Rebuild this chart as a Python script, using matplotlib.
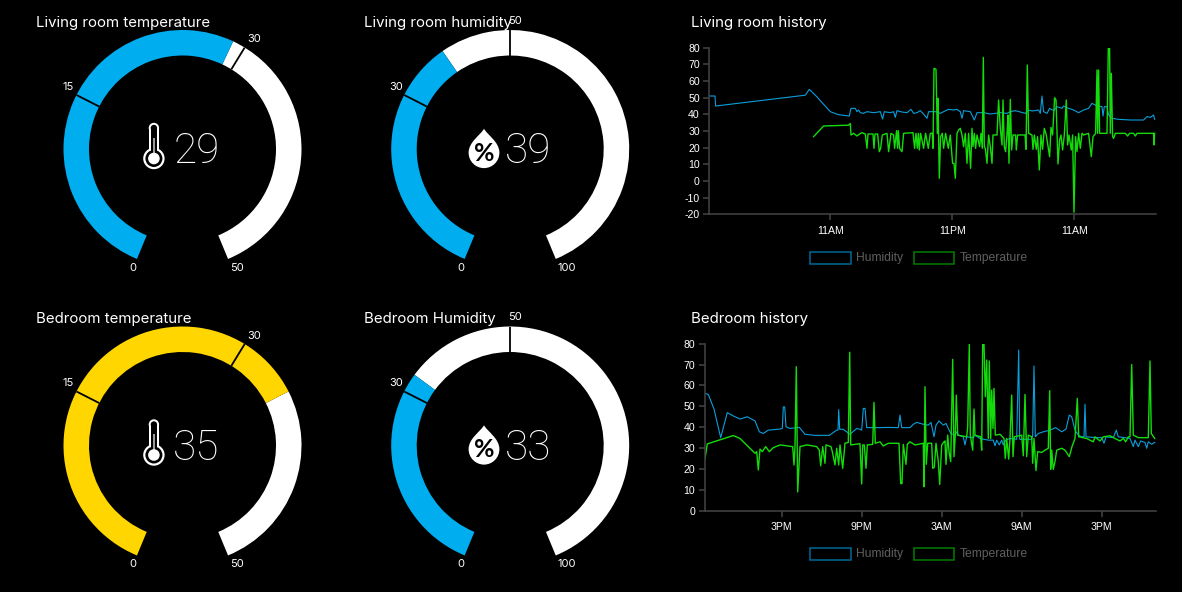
"""Home climate dashboard: four gauges and two history charts on black."""

import matplotlib
matplotlib.use("Agg")
import matplotlib.pyplot as plt
import numpy as np
from matplotlib.patches import Circle, PathPatch, Rectangle, Wedge
from matplotlib.path import Path

plt.rcParams["axes.unicode_minus"] = False

# ---------- GAUGE DATA ----------
GAUGE_TITLES = ["Living room temperature", "Living room humidity",
                "Bedroom temperature", "Bedroom Humidity"]
GAUGE_VALUES = [29, 39, 35, 33]
GAUGE_MAX = [50, 100, 50, 100]
GAUGE_TICKS = [[15, 30], [30, 50], [15, 30], [30, 50]]
GAUGE_KIND = ["temp", "hum", "temp", "hum"]
GAUGE_FILL = ["#00aeef", "#00aeef", "#ffd600", "#00aeef"]

# ---------- HISTORY DATA (time unit ~ 6 min living room, 4.5 min bedroom) ----------
LIVING_TICKS = [121, 243, 365]
LIVING_LABELS = ["11AM", "11PM", "11AM"]
BEDROOM_TICKS = [77, 157, 237, 317, 397]
BEDROOM_LABELS = ["3PM", "9PM", "3AM", "9AM", "3PM"]

LIVING_HUMIDITY = [
    (0, 51), (5.7, 51), (6.3, 45), (96, 51.5), (100, 55), (107.7, 50.5), (111, 48.2), (121, 41.6),
    (129, 39.8), (140, 39), (141.7, 43.6), (146, 43.6), (147.7, 41.6), (149.3, 42.6), (151, 41),
    (154.3, 40.6), (157.7, 41.6), (164.3, 41), (171, 41.6), (173.3, 37.2), (175, 41.6), (181, 41),
    (184.3, 41.6), (186, 38.2), (187.7, 42.2), (192.7, 41.4), (197.7, 41), (201.7, 43), (204.3, 40.6),
    (207.7, 41), (211, 42.2), (214.3, 40.2), (217.7, 37.6), (219.3, 41.6), (226, 41.6), (231, 40.6),
    (234.3, 41.6), (239.3, 43), (244.3, 42.6), (247.7, 43), (251, 41.6), (252.7, 37.6), (254.3, 42.2),
    (261, 41.6), (265, 36.6), (267.7, 41), (274.3, 41), (281, 40.2), (286, 40.6), (291, 41),
    (297.7, 40.6), (301, 41.6), (306, 42.2), (311, 41.4), (316, 40.6), (319.3, 42.6), (322.7, 42),
    (329.3, 42.6), (331, 40.6), (332.7, 51), (334.3, 41.6), (337.7, 40.6), (340.3, 43.6), (344.3, 42.2),
    (347.7, 44.6), (352.7, 43.6), (354.3, 45), (359.3, 43.6), (364.3, 42.6), (369.3, 41), (374.3, 42.6),
    (379.3, 43.6), (382.7, 46.6), (387.7, 45), (392.7, 44.6), (393.7, 39), (395, 44.6), (397.7, 44.6),
    (399.3, 39.6), (402.7, 37.6), (409.3, 37), (421, 36.6), (434.3, 36.6), (437.7, 38.6), (441, 38.2),
    (444.3, 39.6), (445.3, 37),
]

LIVING_TEMPERATURE = [
    (104.3, 26.6), (114.3, 33), (139.3, 33.5), (141, 34.5), (141.7, 27.6), (144.3, 28.6), (147.7, 27),
    (150.3, 28.2), (152.7, 29), (156, 28.2), (157.7, 19.6), (158.7, 28.2), (163.7, 28.2), (164.7, 19.6),
    (165.7, 28.2), (168.3, 28.2), (170, 17.6), (171.3, 19.6), (173, 27.6), (177.7, 28.6), (179.3, 17.6),
    (181.7, 28.6), (184.3, 27.6), (185.3, 19.6), (187.3, 30.2), (188.3, 19.6), (189, 30.2), (190.3, 19.6),
    (192.7, 17.6), (194.3, 28.6), (203.7, 29), (205.3, 19.6), (206.7, 28.6), (208, 19.6), (209, 28.6),
    (210, 18.6), (211.3, 28.6), (214.3, 19.6), (216.3, 28.6), (219, 19.6), (221, 28.6), (223, 28.6),
    (223.7, 19.6), (224.7, 67.6), (226.7, 67), (228, 28.6), (228.7, 49.6), (230, 1.6), (231.3, 26.6),
    (233, 28.6), (234.3, 19.6), (236.3, 28.6), (239, 19.6), (241, 27.6), (243.3, 10.6), (244.7, 10.6),
    (246, 1.6), (247.7, 28.6), (249.3, 30.6), (251, 31.6), (252.7, 27.6), (254.3, 20.6), (256, 28.6),
    (257.7, 10.6), (259.3, 28.6), (261.3, 7.6), (262.7, 31.6), (263.7, 20.6), (265, 28.6), (266.3, 19.6),
    (267.7, 27.6), (270.3, 20.6), (271.7, 28.6), (273, 19.6), (274, 74.2), (275, 20.6), (276, 19.6),
    (277.7, 10.6), (279.3, 27.6), (281, 20.6), (282.7, 10.6), (283.7, 27.6), (287.7, 27.6), (289.3, 48.6),
    (291, 31.6), (292.7, 21.6), (293.7, 48.6), (295, 20.6), (296.3, 17.6), (297.7, 28.6), (298.7, 39.6),
    (299.7, 10.6), (301, 49), (302.3, 18.6), (303.7, 27.6), (306.3, 27.6), (307, 18.6), (308.3, 27.6),
    (315.7, 27.6), (316.7, 19), (318, 69.6), (319.3, 28.6), (322.7, 27.6), (323.7, 19), (325, 27.6),
    (327, 19), (328.3, 26.6), (330, 6.6), (331.7, 27.6), (333.3, 19), (335, 31.6), (337, 27.6),
    (340.3, 14.6), (341.7, 32.2), (343.3, 27.6), (345.3, 50), (346.7, 48.6), (348.7, 10.2), (350.3, 24.6),
    (351.7, 27.6), (353.3, 18.6), (355, 27.6), (357, 48.6), (358.3, 21.6), (359.7, 27.6), (362, 18.6),
    (363.3, 27.6), (364.7, -18.8), (366.3, 26.6), (367.7, 17.6), (369.3, 28.6), (371, 19.6), (372.7, 28.6),
    (374.3, 27.6), (379.3, 28.6), (382, 14.6), (383.7, 26.6), (386.3, 28.6), (387.7, 66.6), (388.3, 28.6),
    (389.3, 66.6), (390.3, 28.6), (397.7, 28.6), (399, 80), (400.3, 80), (401, 28.6), (402, 64.6),
    (403.3, 26.6), (404.3, 25.6), (406, 28.6), (416, 28.6), (418.3, 27), (420.3, 28.6), (424.3, 28.6),
    (426, 27), (427.7, 28.6), (444.3, 28.6), (444.7, 21.6), (445.3, 28.6),
]

BEDROOM_HUMIDITY = [
    (0.3, 56.2), (3.6, 55.7), (9.3, 48.7), (16, 35), (22.6, 47), (28.6, 45.4), (35.3, 43.9), (42.6, 45),
    (50.3, 43), (52.6, 40.2), (54.6, 37.8), (58.6, 37), (63.6, 38.6), (75.3, 39.1), (77.6, 39.4),
    (78.6, 49.7), (80, 49.7), (81.3, 40.2), (85.3, 39.4), (94.6, 39.9), (100.3, 36.6), (110.3, 36.1),
    (124.6, 36.1), (132, 38.6), (133.3, 38.6), (134, 48.4), (135, 39), (138.6, 39), (145.3, 36.6),
    (152, 39.4), (155.3, 39), (157, 38.6), (158.6, 49), (160.3, 49), (162, 39.8), (165.3, 39.8),
    (175.3, 39.8), (183.6, 39.9), (193.6, 39.8), (195.3, 45.8), (197, 39.8), (205.3, 39.8), (208.6, 41.4),
    (212, 42.3), (218.6, 41.4), (223.6, 41), (226.3, 42.3), (229.3, 35.4), (231.3, 41), (234.3, 43),
    (238.6, 41), (241.3, 41.8), (246, 37), (250.3, 36.2), (252, 37.8), (253.6, 36.2), (258.6, 35.4),
    (260.3, 31.5), (262, 35.4), (268.6, 35), (270.3, 36.2), (275.3, 34.6), (283.6, 33.8), (288.6, 33.8),
    (290.3, 31.1), (292, 33.8), (294.6, 31.5), (297, 33.8), (298.6, 31.5), (301, 33.8), (305.3, 34.6),
    (312, 34.2), (314, 77), (315, 34.2), (327, 34.2), (328, 36.2), (329.3, 69.3), (330.6, 35.4),
    (333.6, 37), (338.6, 37.8), (345.3, 38.6), (351, 39.8), (357, 37.8), (361.3, 39.1), (364.6, 45.8),
    (367, 45), (370.3, 38.6), (373.6, 36.2), (377, 35.4), (379.3, 35.4), (380.3, 51), (381.3, 35.4),
    (392, 35), (397, 35), (399.3, 32.3), (401.3, 35.4), (408.6, 35), (411.6, 38.6), (413.6, 35.4),
    (420.3, 35), (425.3, 34.6), (428.6, 30.7), (430.3, 33.8), (433.6, 30.7), (436, 33.4), (440.3, 32.7),
    (442, 29.9), (443.6, 33), (447, 31.8), (450, 32.7),
]

BEDROOM_TEMPERATURE = [
    (0.3, 25), (2.6, 32), (28.6, 36), (35.3, 34.6), (50.3, 27.5), (52, 28.3), (53.6, 19.5), (55.3, 29.5),
    (57.6, 28.3), (61, 30.7), (64.6, 28.3), (68.6, 30.2), (75.3, 31.5), (88, 30.7), (89.3, 21.9),
    (90.3, 30.7), (91.6, 69), (93, 9), (95.3, 30.7), (102, 31.5), (112, 30.7), (114.6, 29), (116, 21.5),
    (118, 30.7), (120.3, 22.7), (121.3, 31.5), (126.3, 30.7), (127.6, 28.3), (130.3, 21.9), (132, 29.9),
    (134, 21.9), (135.3, 31.5), (138, 20.3), (140.3, 32.3), (143.6, 32.7), (145, 75.9), (146, 31.5),
    (155.3, 32.1), (157, 12.8), (158, 31.5), (159.6, 31.5), (161.3, 20.3), (162.6, 31.5), (168, 31.8),
    (169.3, 51.9), (170.6, 32.3), (175.3, 33), (178.6, 31), (183.6, 32.3), (194.3, 32.3), (196, 13),
    (197.3, 13), (198.6, 31.8), (201.3, 22.2), (202.6, 31.8), (205.3, 33), (210.3, 31.5), (218.6, 32.3),
    (219.3, 11.5), (220.3, 59.4), (221.6, 22.2), (223, 32.3), (227, 32.3), (228, 20.3), (229.6, 20.8),
    (231.3, 32.3), (233.6, 23.5), (235, 12.6), (237, 31.5), (239.3, 33), (240.3, 33.4), (241.3, 22.2),
    (243, 36.2), (244.3, 28.3), (246, 23.5), (248, 72.5), (249.3, 25.9), (250.6, 36.2), (251.6, 55.4),
    (253, 36.2), (262, 35.4), (263, 40.2), (264.6, 79.7), (265.6, 36.2), (268, 29), (269.3, 48.7),
    (270.3, 36.2), (276, 35.4), (277, 29), (278, 80), (279.3, 80), (280.6, 54.6), (282, 72.2),
    (283.6, 34.6), (284.6, 71.7), (286, 34.6), (287, 57.8), (288.3, 39.4), (289.3, 58.6), (290.6, 36.2),
    (295.3, 36.6), (299.3, 34.6), (300.6, 25), (302, 34.6), (304, 24.7), (305.3, 34.6), (307, 55.4),
    (308.3, 25.9), (309.6, 35.4), (317, 36.2), (318.6, 26.3), (320.3, 55.7), (322, 25.9), (323.6, 36.2),
    (327, 35.4), (328, 22.7), (329.3, 34.6), (331.3, 19.2), (333, 28.3), (337, 27.9), (340.3, 29),
    (343.6, 29.9), (345, 57.5), (346, 19.8), (347, 29), (348.6, 19.8), (350.3, 23.5), (352, 29),
    (357, 29.9), (360.3, 29), (364.6, 25.9), (367.3, 30.7), (370.3, 34.6), (372.6, 53.8), (374, 35.4),
    (382, 34.6), (385.3, 33.8), (388.6, 33), (390.3, 35.4), (395.3, 33.4), (398.6, 35.4), (405.3, 35.9),
    (410.3, 34.6), (415.3, 33.4), (418.6, 34.6), (421, 33), (423.6, 35.4), (425.3, 35.4), (427, 70),
    (428.6, 36.2), (433.6, 35), (443.6, 35), (445.3, 71.7), (446.6, 37), (450, 34.6),
]

# ---------- LAYOUT (figure pixels) ----------
W, H = 1182, 592
R_OUT, R_IN = 119, 93.5
SWEEP = 157.5
GAUGE_CENTERS = [(182.5, 149), (510.2, 149), (182.5, 445.5), (510.2, 445.5)]
TITLE_POS = [(36, 23), (364, 23), (36, 319), (364, 319)]

HUM_COLOR = "#0a9fdc"
TEMP_COLOR = "#14dc0a"
AXIS_COLOR = "#444444"
TITLE_FONT = ["Inter", "DejaVu Sans"]
NUMBER_FONT = ["Roboto", "DejaVu Sans"]
PERCENT_FONT = ["Lato", "DejaVu Sans"]
CHART_FONT = ["Liberation Sans", "DejaVu Sans"]


def px(y):
    """Pixel row (from the top) to overlay axes y."""
    return H - y


def value_angle(value, vmax):
    """Clockwise angle from 12 o'clock for a gauge value."""
    return -SWEEP + value / vmax * 2 * SWEEP


def draw_thermometer(ov, cx, cy):
    bx, by = cx - 28.6, px(cy + 9.5)
    top = by + 30.5
    ov.add_patch(Rectangle((bx - 5.2, by), 10.4, 30.5, color="white", lw=0))
    ov.add_patch(Circle((bx, top), 5.2, color="white", lw=0))
    ov.add_patch(Circle((bx, by), 10.7, color="white", lw=0))
    ov.add_patch(Rectangle((bx - 3.2, by), 6.4, 30.5, color="black", lw=0))
    ov.add_patch(Circle((bx, top), 3.2, color="black", lw=0))
    ov.add_patch(Circle((bx, by), 8.5, color="black", lw=0))
    ov.add_patch(Rectangle((bx - 1, by), 2, 21, color="#999999", lw=0))
    ov.add_patch(Circle((bx, by), 5.8, color="white", lw=0))


def draw_droplet(ov, cx, cy):
    dx, dy = cx - 26.2, px(cy + 3.7)
    r = 15.4
    k = 0.5523 * r
    verts = [(dx, dy + 24), (dx + 3, dy + 18), (dx + r, dy + 11), (dx + r, dy),
             (dx + r, dy - k), (dx + k, dy - r), (dx, dy - r),
             (dx - k, dy - r), (dx - r, dy - k), (dx - r, dy),
             (dx - r, dy + 11), (dx - 3, dy + 18), (dx, dy + 24)]
    codes = [Path.MOVETO] + [Path.CURVE4] * 12
    ov.add_patch(PathPatch(Path(verts, codes), color="white", lw=0))
    ov.text(dx, dy - 0.5, "%", color="black", fontsize=18, fontweight="bold",
            family=PERCENT_FONT, ha="center", va="center")


def draw_gauge(ov, center, title, title_pos, value, vmax, ticks, fill, kind):
    cx, cy = center
    wedge = (cx, px(cy))
    to_mpl = lambda deg: 90 - deg  # clockwise-from-top to matplotlib degrees
    mid = value_angle(value, vmax)
    ov.add_patch(Wedge(wedge, R_OUT, to_mpl(SWEEP), to_mpl(mid), width=R_OUT - R_IN,
                       color="white", lw=0))
    ov.add_patch(Wedge(wedge, R_OUT, to_mpl(mid), to_mpl(-SWEEP), width=R_OUT - R_IN,
                       color=fill, lw=0))

    for tick in ticks:
        rad = np.radians(value_angle(tick, vmax))
        ov.plot([cx + R_IN * np.sin(rad), cx + R_OUT * np.sin(rad)],
                [px(cy) + R_IN * np.cos(rad), px(cy) + R_OUT * np.cos(rad)],
                color="black", lw=1.3, solid_capstyle="butt")

    for tick in [0] + list(ticks) + [vmax]:
        rad = np.radians(value_angle(tick, vmax))
        lx = cx + 128.5 * np.sin(rad)
        ly = px(cy) + 128.5 * np.cos(rad)
        if rad >= 0:
            ov.text(lx - 2, ly, str(tick), color="white", fontsize=8, family=TITLE_FONT,
                    ha="left", va="center")
        else:
            # labels on the upper left sit a little higher than the radius gives
            ly += 4 if np.cos(rad) > 0 else 0
            ov.text(lx, ly, str(tick), color="white", fontsize=8, family=TITLE_FONT,
                    ha="center", va="center")

    ov.text(title_pos[0], px(title_pos[1]), title, color="white", fontsize=10.8,
            family=TITLE_FONT, ha="left", va="center")

    if kind == "temp":
        draw_thermometer(ov, cx, cy)
        num_x = cx + 14
    else:
        draw_droplet(ov, cx, cy)
        num_x = cx + 18
    ov.text(num_x, px(cy + 2.5), str(value), color="white", fontsize=30.5, fontweight="light",
            family=NUMBER_FONT, ha="center", va="center")


def draw_history(fig, ov, box, title, title_y, humidity, temperature, ylim, yticks,
                 xticks, xlabels, legend_y):
    left, right, top, bottom = box
    ax = fig.add_axes([left / W, 1 - bottom / H, (right - left) / W, (bottom - top) / H])
    ax.set_facecolor("black")
    ax.plot(*zip(*humidity), color=HUM_COLOR, lw=0.8)
    ax.plot(*zip(*temperature), color=TEMP_COLOR, lw=1.0)
    ax.set_xlim(0, right - left)
    ax.set_ylim(*ylim)
    ax.set_yticks(yticks)
    ax.set_xticks(xticks)
    ax.set_xticklabels(xlabels)
    for name in ("top", "right"):
        ax.spines[name].set_visible(False)
    for name in ("left", "bottom"):
        ax.spines[name].set_color(AXIS_COLOR)
        ax.spines[name].set_linewidth(1.1)
    ax.tick_params(axis="both", colors=AXIS_COLOR, labelcolor="white", length=4.3, width=1.1,
                   labelsize=7.6, pad=2.5)
    ax.tick_params(axis="x", pad=4)
    for label in ax.get_xticklabels() + ax.get_yticklabels():
        label.set_family(CHART_FONT)

    ov.text(691, px(title_y), title, color="white", fontsize=10.8, family=TITLE_FONT,
            ha="left", va="center")

    # legend boxes sit below the chart, same place in both panels
    for x0, edge, name in [(810, "#006a94", "Humidity"), (913.5, "#067d06", "Temperature")]:
        ov.add_patch(Rectangle((x0, px(legend_y + 6)), 40.5, 12, fill=False, edgecolor=edge, lw=1.1))
        ov.text(x0 + 46, px(legend_y), name, color="#5f5f5f", fontsize=8.7, family=CHART_FONT,
                ha="left", va="center")


def main():
    fig = plt.figure(figsize=(W / 100, H / 100), dpi=100, facecolor="black")
    ov = fig.add_axes([0, 0, 1, 1])
    ov.set_xlim(0, W)
    ov.set_ylim(0, H)
    ov.axis("off")

    for i in range(4):
        draw_gauge(ov, GAUGE_CENTERS[i], GAUGE_TITLES[i], TITLE_POS[i], GAUGE_VALUES[i],
                   GAUGE_MAX[i], GAUGE_TICKS[i], GAUGE_FILL[i], GAUGE_KIND[i])

    draw_history(fig, ov, (709.3, 1155.7, 47.7, 214.3), "Living room history", 23,
                 LIVING_HUMIDITY, LIVING_TEMPERATURE, (-20, 80), list(range(-20, 81, 10)),
                 LIVING_TICKS, LIVING_LABELS, 258)
    draw_history(fig, ov, (704.7, 1155.7, 343.7, 510.7), "Bedroom history", 319,
                 BEDROOM_HUMIDITY, BEDROOM_TEMPERATURE, (0, 80), list(range(0, 81, 10)),
                 BEDROOM_TICKS, BEDROOM_LABELS, 554)

    fig.savefig("out.png", dpi=100, facecolor="black")


if __name__ == "__main__":
    main()
